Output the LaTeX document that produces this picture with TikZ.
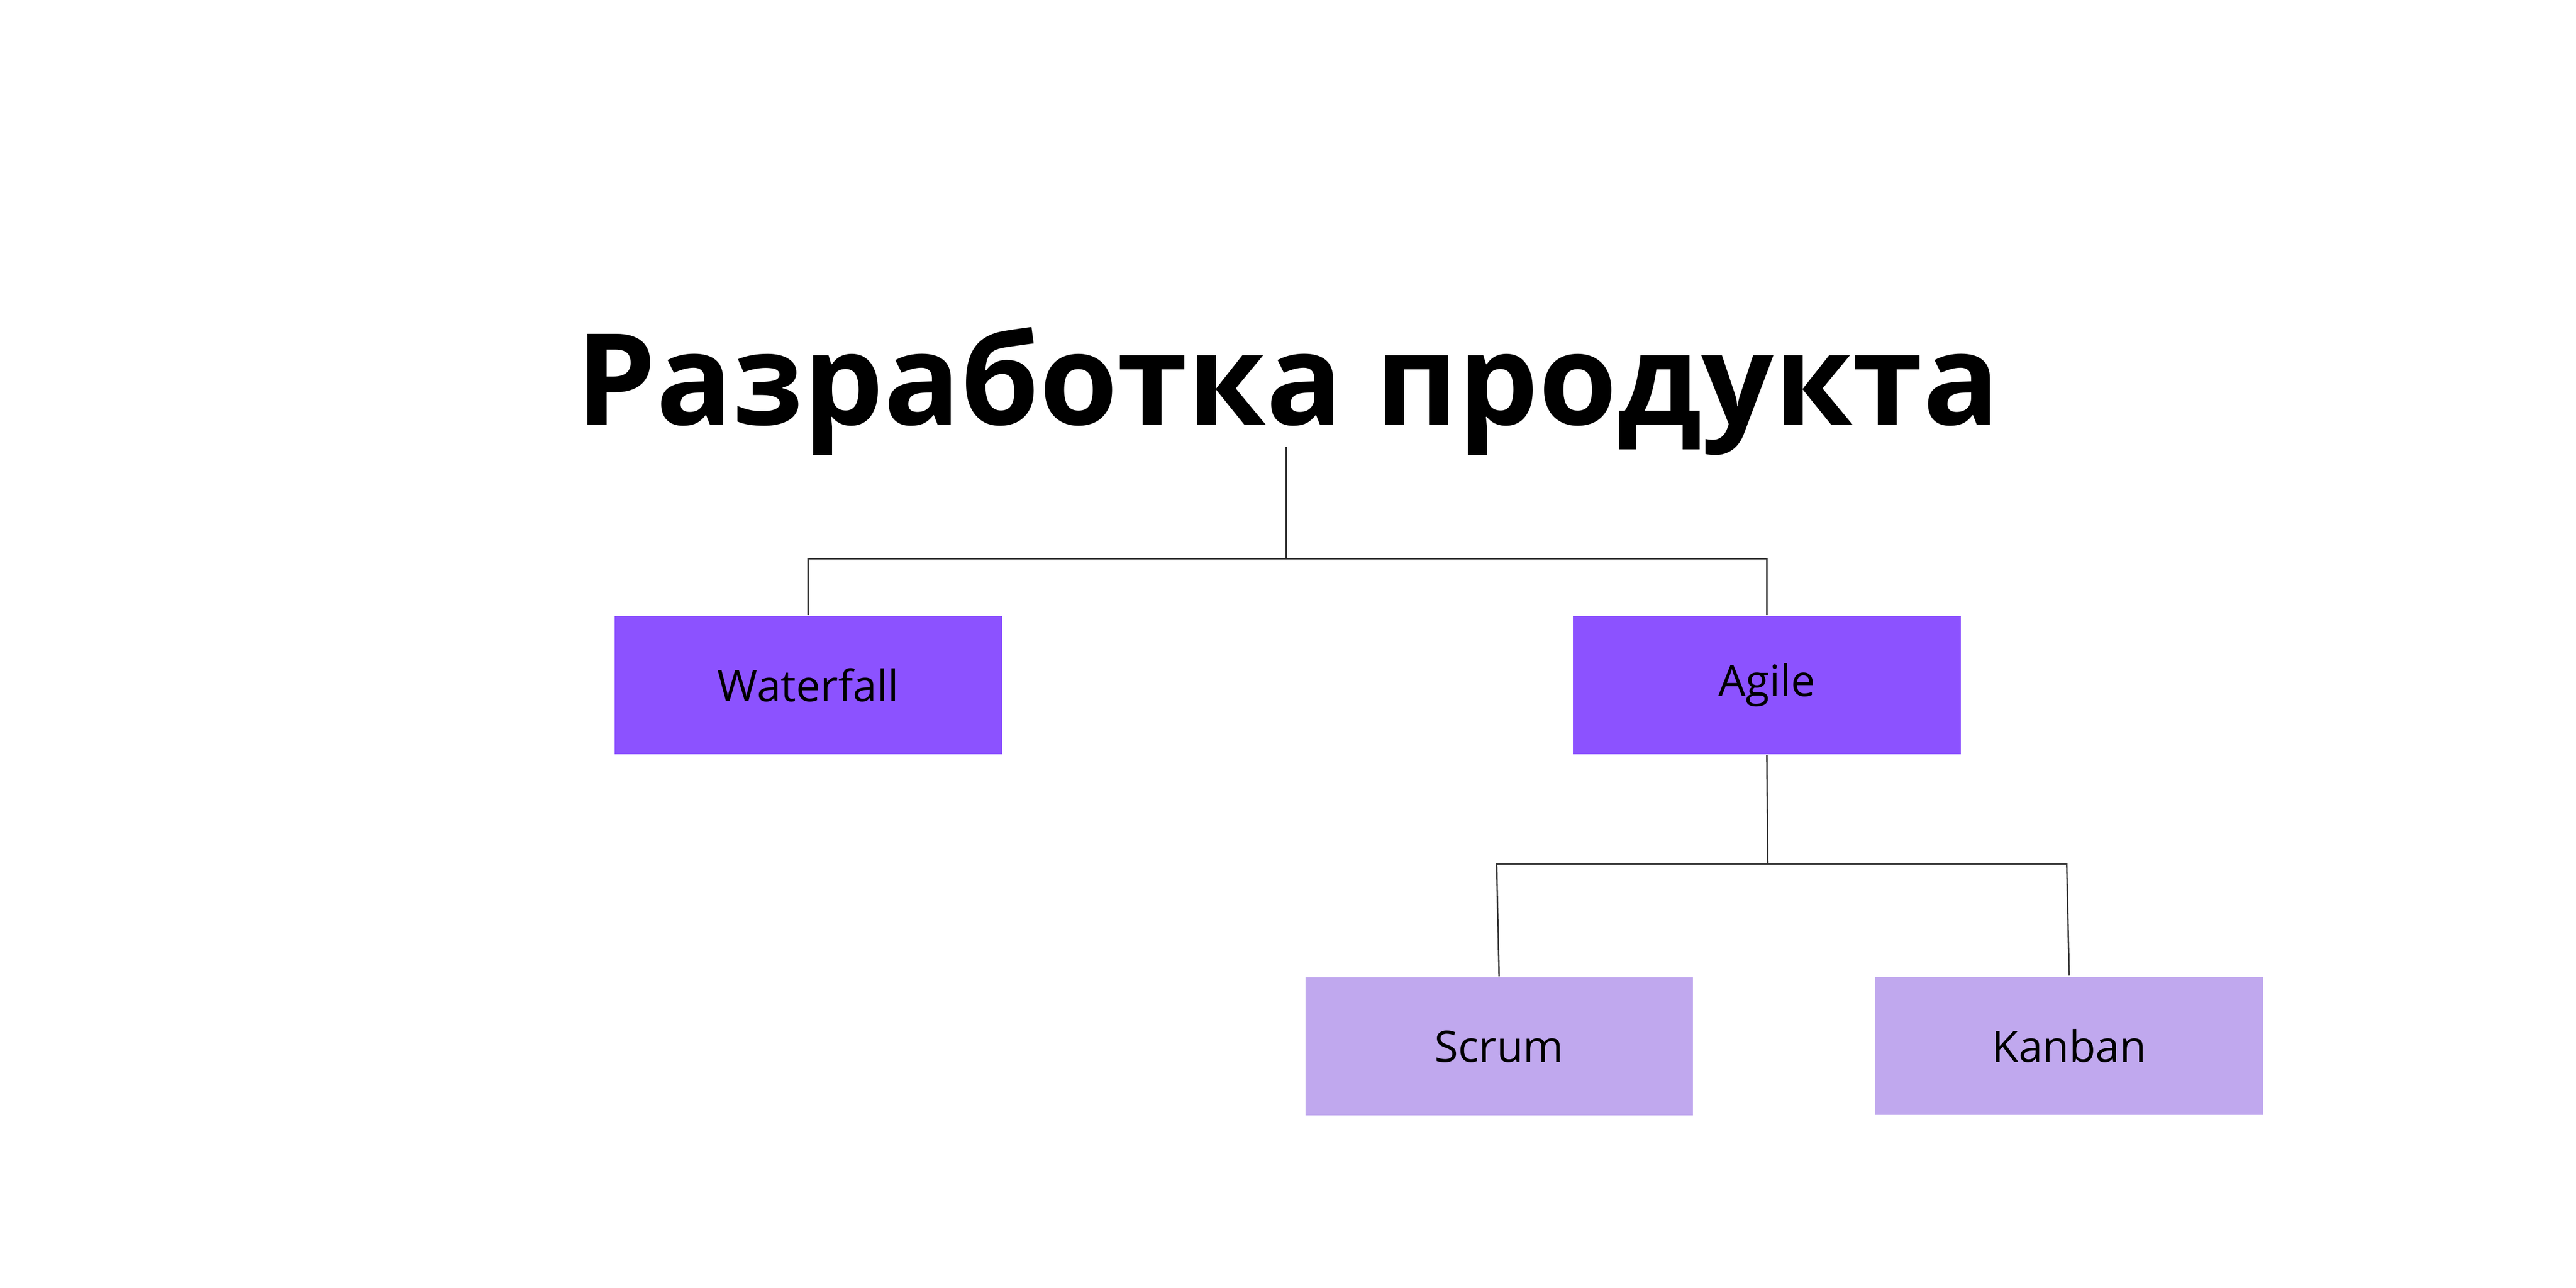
\documentclass[tikz,border=0pt]{standalone}
\usepackage{fontspec}
\setmainfont{Open Sans}
\definecolor{dark}{HTML}{8C52FF}
\definecolor{light}{HTML}{C0A8EE}
\begin{document}
\begin{tikzpicture}[x=0.1mm,y=-0.1mm,
  box/.style={minimum width=23.6mm,minimum height=8.4mm,inner sep=0pt,font=\fontsize{7.5pt}{9pt}\selectfont},
  conn/.style={draw=black!80,line width=0.25pt}]
\useasboundingbox (0,0) rectangle (1568,784);
\fill[white] (0,0) rectangle (1568,784);
\node[font=\fontsize{22pt}{26pt}\selectfont\bfseries] (title) at (784,238) {Разработка продукта};
\node[box,fill=dark] (w) at (492,417) {Waterfall};
\node[box,fill=dark] (a) at (1075.5,417) {Agile};
\node[box,fill=light] (s) at (912.5,637) {Scrum};
\node[box,fill=light] (k) at (1259.5,636.5) {Kanban};
\coordinate (t0) at (783,272);
\coordinate (t1) at (783,340);
\coordinate (b1) at (1076,526);
\draw[conn] (t0) -- (t1) -| (w.north);
\draw[conn] (t1) -| (a.north);
\draw[conn] (a.south) -- (b1);
\draw[conn] (b1) -- (911,526) -- (s.north);
\draw[conn] (b1) -- (1258,526) -- (k.north);
\end{tikzpicture}
\end{document}
